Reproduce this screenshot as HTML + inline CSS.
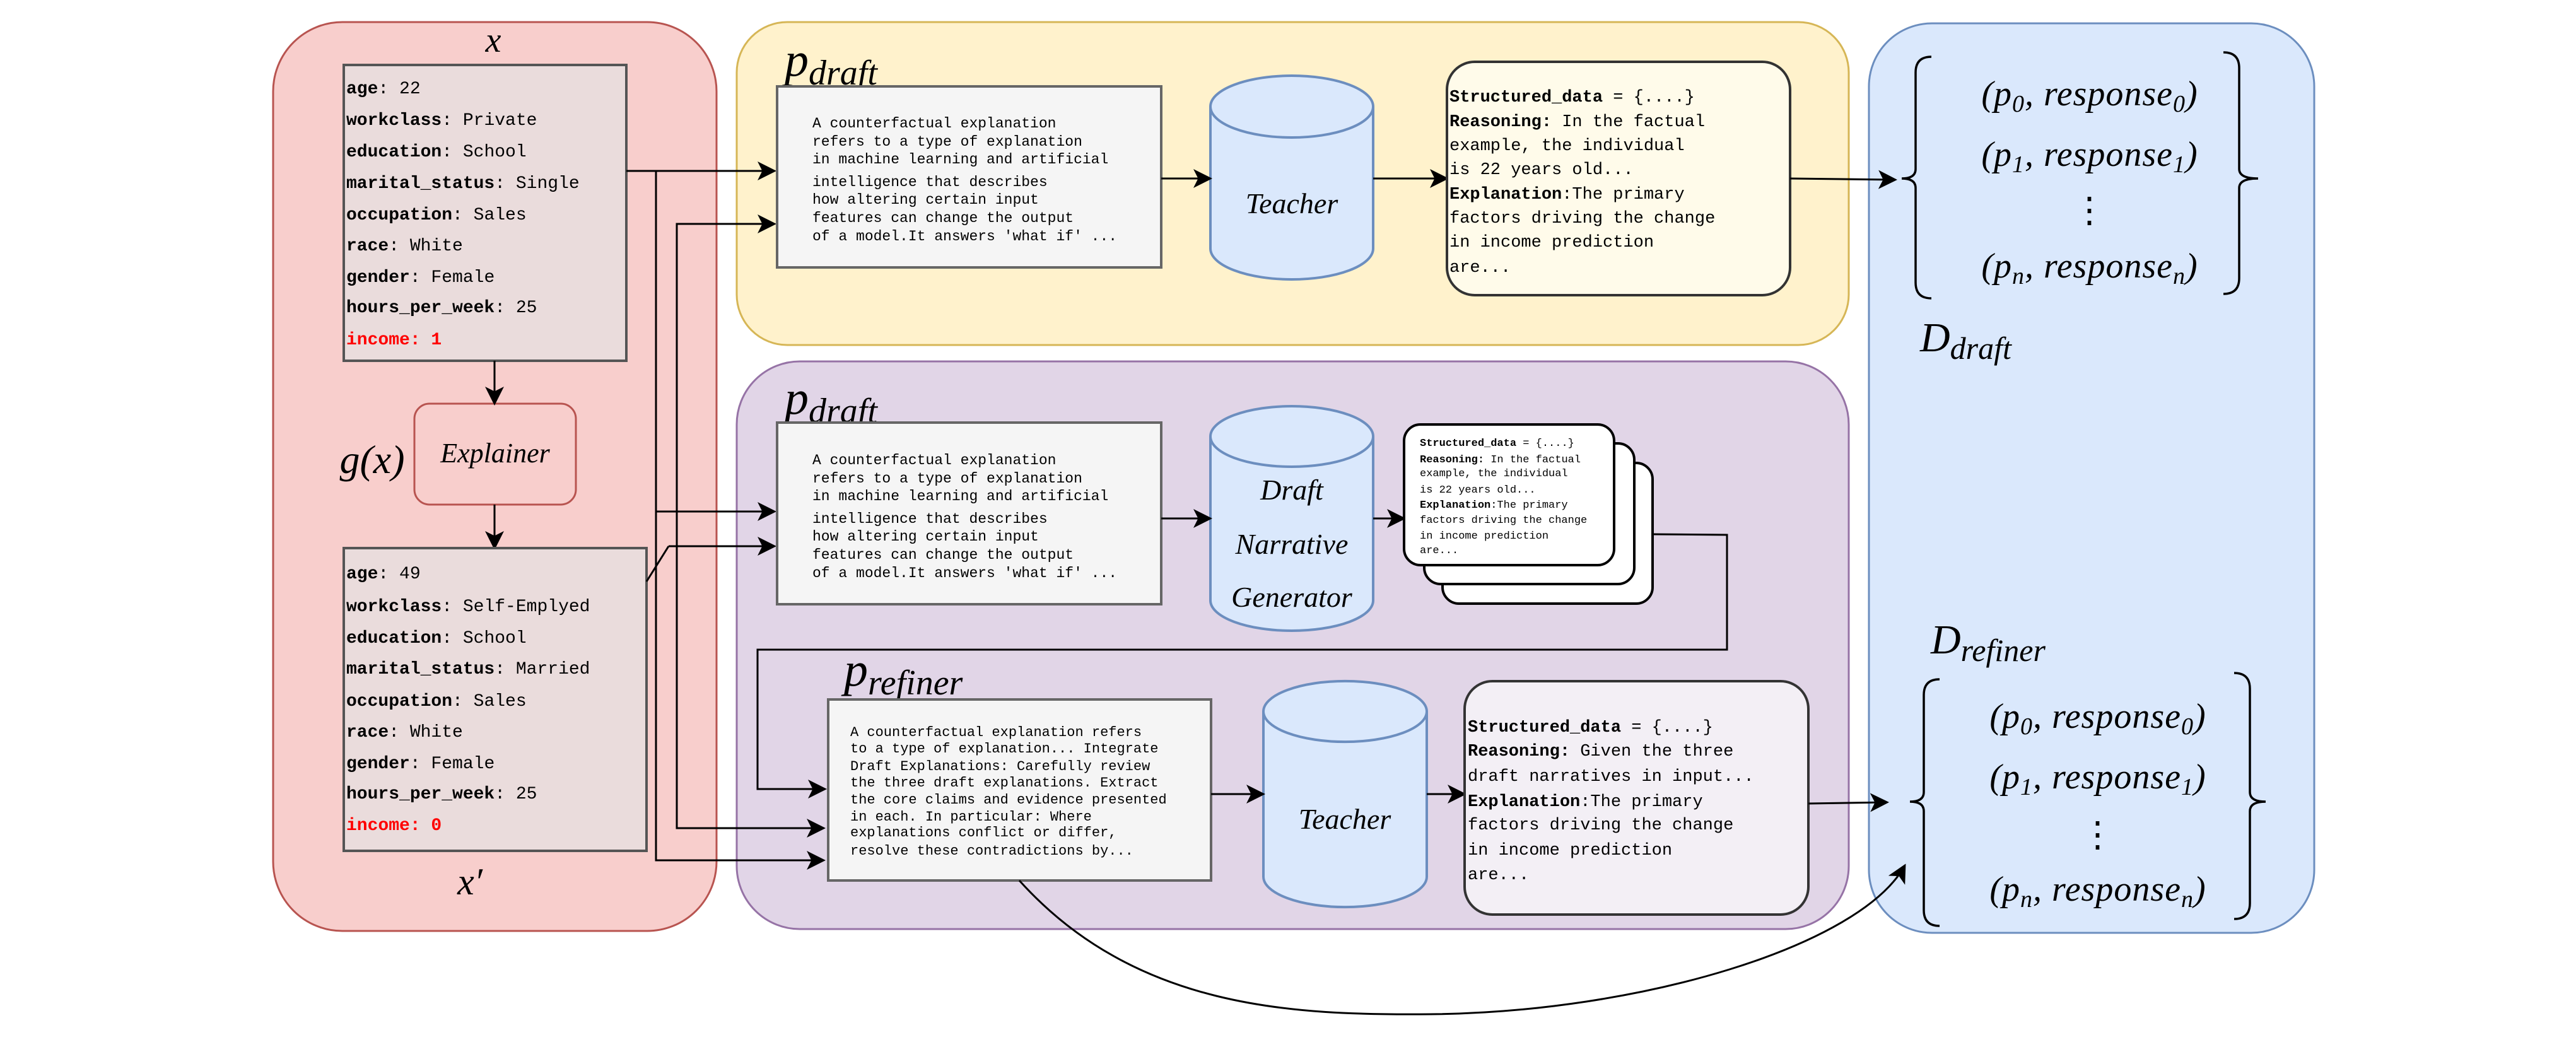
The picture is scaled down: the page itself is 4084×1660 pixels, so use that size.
<!DOCTYPE html>
<html><head><meta charset="utf-8"><style>
html,body{margin:0;padding:0;background:#fff}
svg{display:block}
.m{font-family:"Liberation Mono",monospace}
.s{font-family:"Liberation Serif",serif;font-style:italic}
</style></head><body>
<svg width="4084" height="1660" viewBox="0 0 4084 1660" xmlns="http://www.w3.org/2000/svg">
<defs>
<marker id="ar" viewBox="0 0 20 20" refX="18" refY="10" markerWidth="30" markerHeight="30" markerUnits="userSpaceOnUse" orient="auto"><path d="M0,0 L20,10 L0,20 L5,10 z" fill="#000"/></marker>
</defs>
<rect x="433" y="35" width="703" height="1441" rx="110" fill="#f8cecc" stroke="#b85450" stroke-width="3"/>
<rect x="1168" y="35" width="1763" height="512" rx="80" fill="#fff2cc" stroke="#d6b656" stroke-width="3"/>
<rect x="1168" y="573" width="1763" height="900" rx="100" fill="#e1d5e7" stroke="#9673a6" stroke-width="3"/>
<rect x="2963" y="37" width="706" height="1442" rx="100" fill="#dae8fc" stroke="#6c8ebf" stroke-width="3"/>

<text x="782" y="82" class="s" font-size="56" text-anchor="middle">x</text>
<rect x="545" y="103" width="448" height="469" fill="#eadcdc" stroke="#555" stroke-width="4"/>
<g class="m" font-size="28">
<text x="549" y="148"><tspan font-weight="bold">age</tspan>: 22</text>
<text x="549" y="198"><tspan font-weight="bold">workclass</tspan>: Private</text>
<text x="549" y="248"><tspan font-weight="bold">education</tspan>: School</text>
<text x="549" y="298"><tspan font-weight="bold">marital_status</tspan>: Single</text>
<text x="549" y="348"><tspan font-weight="bold">occupation</tspan>: Sales</text>
<text x="549" y="397"><tspan font-weight="bold">race</tspan>: White</text>
<text x="549" y="447"><tspan font-weight="bold">gender</tspan>: Female</text>
<text x="549" y="495"><tspan font-weight="bold">hours_per_week</tspan>: 25</text>
<text x="549" y="546" fill="#f00" font-weight="bold">income: 1</text>
</g>
<rect x="657" y="640" width="256" height="160" rx="24" fill="#f8cecc" stroke="#b85450" stroke-width="3"/>
<text x="785" y="733" class="s" font-size="44" text-anchor="middle">Explainer</text>
<text x="590" y="750" class="s" font-size="64" text-anchor="middle">g(x)</text>
<line x1="784" y1="572" x2="784" y2="640" stroke="#000" stroke-width="3" marker-end="url(#ar)"/>
<line x1="784" y1="800" x2="784" y2="869" stroke="#000" stroke-width="3" marker-end="url(#ar)"/>
<rect x="545" y="869" width="480" height="480" fill="#eadcdc" stroke="#555" stroke-width="4"/>
<g class="m" font-size="28">
<text x="549" y="917"><tspan font-weight="bold">age</tspan>: 49</text>
<text x="549" y="969"><tspan font-weight="bold">workclass</tspan>: Self-Emplyed</text>
<text x="549" y="1019"><tspan font-weight="bold">education</tspan>: School</text>
<text x="549" y="1068"><tspan font-weight="bold">marital_status</tspan>: Married</text>
<text x="549" y="1119"><tspan font-weight="bold">occupation</tspan>: Sales</text>
<text x="549" y="1168"><tspan font-weight="bold">race</tspan>: White</text>
<text x="549" y="1218"><tspan font-weight="bold">gender</tspan>: Female</text>
<text x="549" y="1266"><tspan font-weight="bold">hours_per_week</tspan>: 25</text>
<text x="549" y="1316" fill="#f00" font-weight="bold">income: 0</text>
</g>
<text x="745" y="1418" class="s" font-size="60" text-anchor="middle">x′</text>

<g stroke="#000" stroke-width="3" fill="none">
<line x1="993" y1="271" x2="1228" y2="271" marker-end="url(#ar)"/>
<polyline points="1040,271 1040,1364 1306,1364" marker-end="url(#ar)"/>
<line x1="1040" y1="811" x2="1228" y2="811" marker-end="url(#ar)"/>
<polyline points="1228,355 1073,355 1073,1313 1306,1313"/>
<line x1="1073" y1="355" x2="1228" y2="355" marker-end="url(#ar)"/>
<line x1="1073" y1="1313" x2="1306" y2="1313" marker-end="url(#ar)"/>
<polyline points="1025,922 1060,866"/>
<line x1="1060" y1="866" x2="1228" y2="866" marker-end="url(#ar)"/>
</g>

<text x="1244" y="120" class="s" font-size="76">p<tspan font-size="56" dy="14">draft</tspan></text>
<rect x="1232" y="137" width="609" height="287" fill="#f5f5f5" stroke="#666" stroke-width="4"/>
<g class="m" font-size="23">
<text x="1288" y="202">A counterfactual explanation</text>
<text x="1288" y="231">refers to a type of explanation</text>
<text x="1288" y="259">in machine learning and artificial</text>
<text x="1288" y="295">intelligence that describes</text>
<text x="1288" y="323">how altering certain input</text>
<text x="1288" y="352">features can change the output</text>
<text x="1288" y="381">of a model.It answers 'what if' ...</text>
</g>
<path d="M1919,169 A129,49 0 0 1 2177,169 L2177,394 A129,49 0 0 1 1919,394 Z" fill="#dae8fc" stroke="#6c8ebf" stroke-width="4"/>
<path d="M1919,169 A129,49 0 0 0 2177,169" fill="none" stroke="#6c8ebf" stroke-width="4"/>
<text x="2048" y="338" class="s" font-size="46" text-anchor="middle">Teacher</text>
<line x1="1841" y1="283" x2="1919" y2="283" stroke="#000" stroke-width="3" marker-end="url(#ar)"/>
<line x1="2177" y1="283" x2="2294" y2="283" stroke="#000" stroke-width="3" marker-end="url(#ar)"/>
<rect x="2294" y="98" width="544" height="370" rx="44" fill="#fffbea" stroke="#333" stroke-width="4"/>
<g class="m" font-size="27">
<text x="2298" y="161"><tspan font-weight="bold">Structured_data</tspan> = {....}</text>
<text x="2298" y="200"><tspan font-weight="bold">Reasoning:</tspan> In the factual</text>
<text x="2298" y="238">example, the individual</text>
<text x="2298" y="276">is 22 years old...</text>
<text x="2298" y="315"><tspan font-weight="bold">Explanation</tspan>:The primary</text>
<text x="2298" y="353">factors driving the change</text>
<text x="2298" y="391">in income prediction</text>
<text x="2298" y="431">are...</text>
</g>
<line x1="2838" y1="283" x2="3005" y2="285" stroke="#000" stroke-width="3" marker-end="url(#ar)"/>

<text x="1244" y="656" class="s" font-size="76">p<tspan font-size="56" dy="14">draft</tspan></text>
<rect x="1232" y="670" width="609" height="288" fill="#f5f5f5" stroke="#666" stroke-width="4"/>
<g class="m" font-size="23">
<text x="1288" y="736">A counterfactual explanation</text>
<text x="1288" y="765">refers to a type of explanation</text>
<text x="1288" y="793">in machine learning and artificial</text>
<text x="1288" y="829">intelligence that describes</text>
<text x="1288" y="857">how altering certain input</text>
<text x="1288" y="886">features can change the output</text>
<text x="1288" y="915">of a model.It answers 'what if' ...</text>
</g>
<path d="M1919,692 A129,48 0 0 1 2177,692 L2177,952 A129,48 0 0 1 1919,952 Z" fill="#dae8fc" stroke="#6c8ebf" stroke-width="4"/>
<path d="M1919,692 A129,48 0 0 0 2177,692" fill="none" stroke="#6c8ebf" stroke-width="4"/>
<g class="s" font-size="46" text-anchor="middle">
<text x="2048" y="792">Draft</text>
<text x="2048" y="878">Narrative</text>
<text x="2048" y="962">Generator</text>
</g>
<line x1="1841" y1="822" x2="1919" y2="822" stroke="#000" stroke-width="3" marker-end="url(#ar)"/>
<line x1="2177" y1="822" x2="2226" y2="822" stroke="#000" stroke-width="3" marker-end="url(#ar)"/>
<rect x="2287" y="734" width="333" height="223" rx="26" fill="#fff" stroke="#000" stroke-width="4"/>
<rect x="2258" y="703" width="333" height="223" rx="26" fill="#fff" stroke="#000" stroke-width="4"/>
<rect x="2226" y="673" width="333" height="223" rx="26" fill="#fff" stroke="#000" stroke-width="4"/>
<g class="m" font-size="17">
<text x="2251" y="707"><tspan font-weight="bold">Structured_data</tspan> = {....}</text>
<text x="2251" y="733"><tspan font-weight="bold">Reasoning:</tspan> In the factual</text>
<text x="2251" y="755">example, the individual</text>
<text x="2251" y="781">is 22 years old...</text>
<text x="2251" y="805"><tspan font-weight="bold">Explanation</tspan>:The primary</text>
<text x="2251" y="829">factors driving the change</text>
<text x="2251" y="854">in income prediction</text>
<text x="2251" y="877">are...</text>
</g>
<polyline points="2620,847 2738,848 2738,1030 1201,1030 1201,1251 1308,1251" fill="none" stroke="#000" stroke-width="3" marker-end="url(#ar)"/>

<text x="1338" y="1087" class="s" font-size="76">p<tspan font-size="56" dy="14">refiner</tspan></text>
<rect x="1313" y="1109" width="607" height="287" fill="#f5f5f5" stroke="#666" stroke-width="4"/>
<g class="m" font-size="22">
<text x="1348" y="1167">A counterfactual explanation refers</text>
<text x="1348" y="1193">to a type of explanation... Integrate</text>
<text x="1348" y="1221">Draft Explanations: Carefully review</text>
<text x="1348" y="1247">the three draft explanations. Extract</text>
<text x="1348" y="1274">the core claims and evidence presented</text>
<text x="1348" y="1301">in each. In particular: Where</text>
<text x="1348" y="1326">explanations conflict or differ,</text>
<text x="1348" y="1355">resolve these contradictions by...</text>
</g>
<path d="M2003,1128 A129,48 0 0 1 2262,1128 L2262,1390 A129,48 0 0 1 2003,1390 Z" fill="#dae8fc" stroke="#6c8ebf" stroke-width="4"/>
<path d="M2003,1128 A129,48 0 0 0 2262,1128" fill="none" stroke="#6c8ebf" stroke-width="4"/>
<text x="2132" y="1314" class="s" font-size="46" text-anchor="middle">Teacher</text>
<line x1="1920" y1="1259" x2="2003" y2="1259" stroke="#000" stroke-width="3" marker-end="url(#ar)"/>
<line x1="2262" y1="1259" x2="2322" y2="1259" stroke="#000" stroke-width="3" marker-end="url(#ar)"/>
<rect x="2322" y="1080" width="545" height="370" rx="44" fill="#f3eff5" stroke="#333" stroke-width="4"/>
<g class="m" font-size="27">
<text x="2327" y="1160"><tspan font-weight="bold">Structured_data</tspan> = {....}</text>
<text x="2327" y="1198"><tspan font-weight="bold">Reasoning:</tspan> Given the three</text>
<text x="2327" y="1238">draft narratives in input...</text>
<text x="2327" y="1278"><tspan font-weight="bold">Explanation</tspan>:The primary</text>
<text x="2327" y="1315">factors driving the change</text>
<text x="2327" y="1355">in income prediction</text>
<text x="2327" y="1394">are...</text>
</g>
<line x1="2867" y1="1274" x2="2992" y2="1272" stroke="#000" stroke-width="3" marker-end="url(#ar)"/>
<path d="M1616,1396 C1800,1600 2050,1610 2268,1608 C2600,1605 2950,1500 3020,1372" fill="none" stroke="#000" stroke-width="3" marker-end="url(#ar)"/>

<g fill="none" stroke="#000" stroke-width="3.5">
<path d="M3062,90 Q3037,90 3037,115 L3037,268 Q3037,283 3015,283 Q3037,283 3037,298 L3037,448 Q3037,473 3062,473"/>
<path d="M3525,83 Q3550,83 3550,108 L3550,268 Q3550,283 3580,283 Q3550,283 3550,298 L3550,441 Q3550,466 3525,466"/>
<path d="M3075,1077 Q3050,1077 3050,1102 L3050,1256 Q3050,1271 3028,1271 Q3050,1271 3050,1286 L3050,1443 Q3050,1468 3075,1468"/>
<path d="M3542,1067 Q3567,1067 3567,1092 L3567,1256 Q3567,1271 3592,1271 Q3567,1271 3567,1286 L3567,1432 Q3567,1457 3542,1457"/>
</g>
<g class="s" font-size="56" text-anchor="middle" letter-spacing="1">
<text x="3313" y="167">(p<tspan font-size="38" dy="10">0</tspan><tspan dy="-10">, response</tspan><tspan font-size="38" dy="10">0</tspan><tspan dy="-10">)</tspan></text>
<text x="3313" y="263">(p<tspan font-size="38" dy="10">1</tspan><tspan dy="-10">, response</tspan><tspan font-size="38" dy="10">1</tspan><tspan dy="-10">)</tspan></text>
<text x="3313" y="352" font-style="normal">⋮</text>
<text x="3313" y="440">(p<tspan font-size="38" dy="10">n</tspan><tspan dy="-10">, response</tspan><tspan font-size="38" dy="10">n</tspan><tspan dy="-10">)</tspan></text>
<text x="3326" y="1154">(p<tspan font-size="38" dy="10">0</tspan><tspan dy="-10">, response</tspan><tspan font-size="38" dy="10">0</tspan><tspan dy="-10">)</tspan></text>
<text x="3326" y="1250">(p<tspan font-size="38" dy="10">1</tspan><tspan dy="-10">, response</tspan><tspan font-size="38" dy="10">1</tspan><tspan dy="-10">)</tspan></text>
<text x="3326" y="1342" font-style="normal">⋮</text>
<text x="3326" y="1428">(p<tspan font-size="38" dy="10">n</tspan><tspan dy="-10">, response</tspan><tspan font-size="38" dy="10">n</tspan><tspan dy="-10">)</tspan></text>
</g>
<text x="3044" y="557" class="s" font-size="66">D<tspan font-size="50" dy="12">draft</tspan></text>
<text x="3061" y="1036" class="s" font-size="66">D<tspan font-size="50" dy="12">refiner</tspan></text>
</svg>
</body></html>
